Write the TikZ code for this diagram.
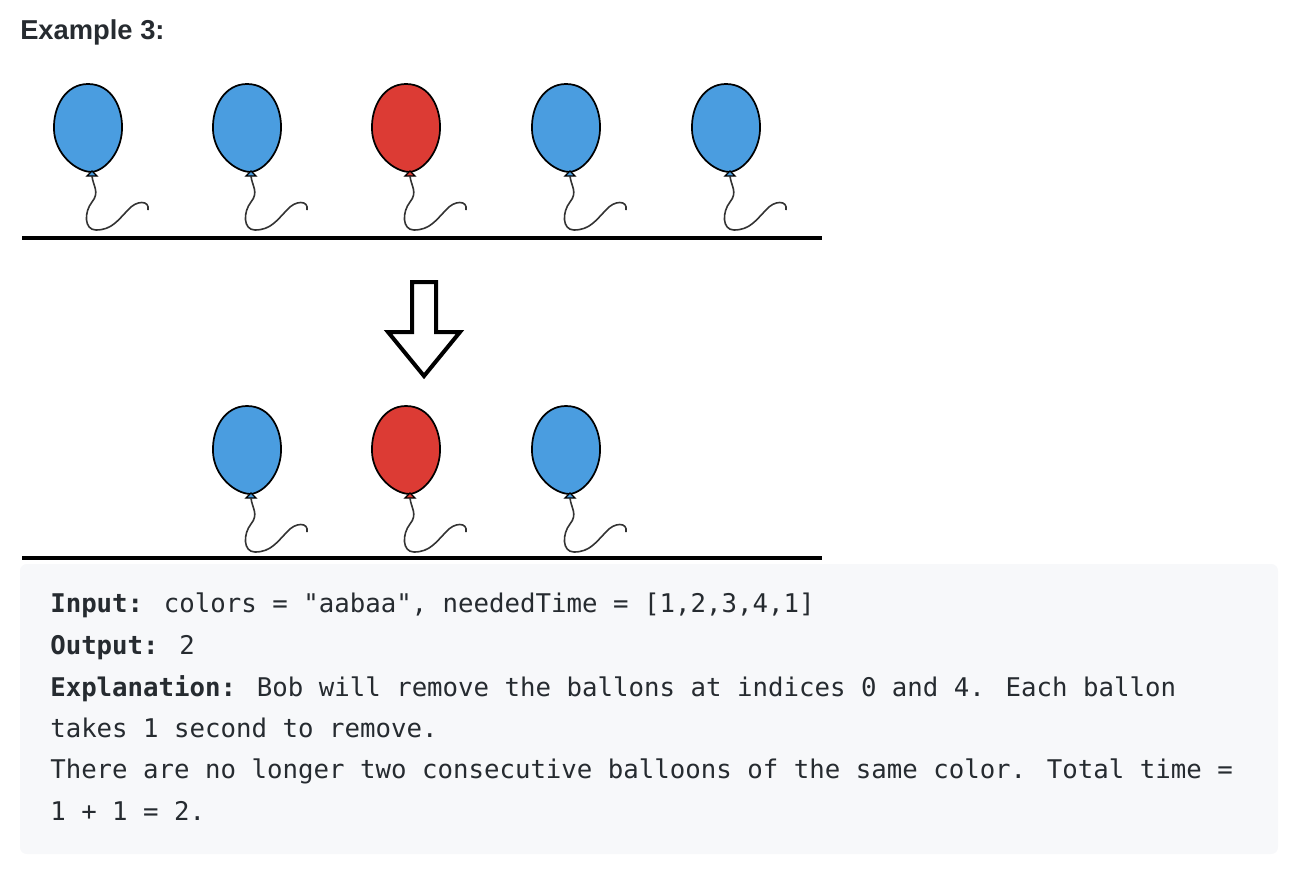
\documentclass[tikz,border=0pt]{standalone}
\usepackage{fontspec}
\setmainfont{Liberation Sans}
\newfontfamily\codefont{DejaVu Sans Mono}
\definecolor{bblue}{HTML}{4A9DE0}
\definecolor{bred}{HTML}{DC3B34}
\definecolor{codebg}{HTML}{F7F8FA}
\definecolor{txt}{HTML}{262B30}
\tikzset{
  balloon/.pic={
    \draw[line width=1.3pt,fill=#1] (0,-46) .. controls (24,-46) and (35,-22) .. (34,0)
      .. controls (33,22) and (18,40) .. (4,42) .. controls (-12,42) and (-33,24) .. (-34,0)
      .. controls (-35,-24) and (-22,-46) .. (0,-46) -- cycle;
    \draw[line width=1pt,fill=#1] (-1,46) -- (4,41) -- (9,46) -- cycle;
    \draw[line width=1.2pt,gray!40!black] (4,46) .. controls (5,56) and (12,62) .. (4,72)
      .. controls (-4,82) and (-4,100) .. (8,100) .. controls (24,100) and (30,90) .. (40,80)
      .. controls (48,70) and (62,70) .. (60,80);
  },
  codetext/.style={anchor=base west,font=\codefont\fontsize{19.3}{22}\selectfont,text=txt,inner sep=0},
  floorline/.style={line width=3.5pt}
}
\begin{document}
\begin{tikzpicture}[x=0.75pt,y=-0.75pt]
\useasboundingbox (0,0) rectangle (1292,872);
\node[anchor=base west,inner sep=0,font=\bfseries\fontsize{20.5}{24}\selectfont,text=txt] (title) at (20,39) {Example 3:};
\foreach \x/\c [count=\i] in {88/bblue,247/bblue,406/bred,566/bblue,726/bblue}
  \pic at (\x,130) {balloon=\c};
\coordinate (f1a) at (22,238); \coordinate (f1b) at (822,238);
\draw[floorline] (f1a) -- (f1b);
\node[draw=none,inner sep=0] (arrow) at (423,330) {};
\draw[line width=3pt,line join=miter] (412,282) -- (436,282) -- (436,332) -- (460,332) -- (424,376) -- (388,332) -- (412,332) -- cycle;
\foreach \x/\c in {247/bblue,406/bred,566/bblue}
  \pic at (\x,452) {balloon=\c};
\coordinate (f2a) at (22,558); \coordinate (f2b) at (822,558);
\draw[floorline] (f2a) -- (f2b);
\fill[codebg,rounded corners=5pt] (20,564) rectangle (1278,854);
\node[codetext] (l1) at (50,612) {\textbf{Input:} colors = "aabaa", neededTime = [1,2,3,4,1]};
\node[codetext] (l2) at (50,654) {\textbf{Output:} 2};
\node[codetext] (l3) at (50,696) {\textbf{Explanation:} Bob will remove the ballons at indices 0 and 4. Each ballon};
\node[codetext] (l4) at (50,737) {takes 1 second to remove.};
\node[codetext] (l5) at (50,778) {There are no longer two consecutive balloons of the same color. Total time =};
\node[codetext] (l6) at (50,820) {1 + 1 = 2.};
\end{tikzpicture}
\end{document}
